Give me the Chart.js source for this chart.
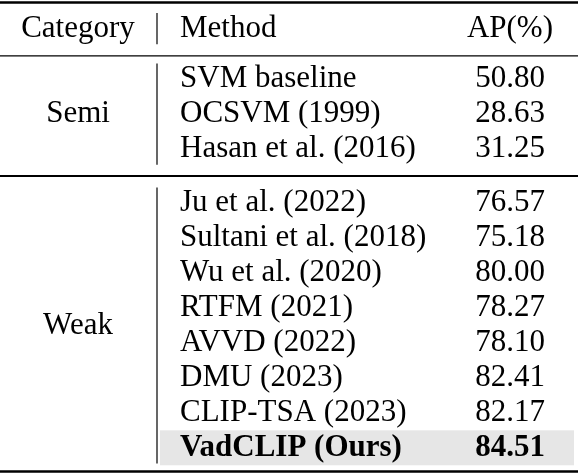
<!DOCTYPE html>
<html>
<head>
<meta charset="utf-8">
<script src="https://cdn.jsdelivr.net/npm/chart.js@4"></script>
<style>
html, body { margin: 0; padding: 0; background: #fff; }
#wrap { width: 578px; height: 474px; }
</style>
</head>
<body>
<div id="wrap"><canvas id="tableChart"></canvas></div>
<script>
// table data
const headers = ['Category', 'Method', 'AP(%)'];
const categories = ['Semi', 'Weak'];
const semiMethods = ['SVM baseline', 'OCSVM (1999)', 'Hasan et al. (2016)'];
const semiAP = ['50.80', '28.63', '31.25'];
const weakMethods = ['Ju et al. (2022)', 'Sultani et al. (2018)', 'Wu et al. (2020)', 'RTFM (2021)',
    'AVVD (2022)', 'DMU (2023)', 'CLIP-TSA (2023)', 'VadCLIP (Ours)'];
const weakAP = ['76.57', '75.18', '80.00', '78.27', '78.10', '82.41', '82.17', '84.51'];

// row positions on the y scale (row units)
const semiRows = [1.45, 2.45, 3.45];
const weakRows = [5, 6, 7, 8, 9, 10, 11, 12];

const tablePlugin = {
    id: 'table',
    afterDraw(chart) {
        const ctx = chart.ctx;
        const x = chart.scales.x, y = chart.scales.y;
        const font = 'px "Liberation Serif", "Times New Roman", serif';
        ctx.save();
        ctx.fillStyle = '#000';
        ctx.strokeStyle = '#000';
        ctx.textBaseline = 'middle';

        // highlight last row
        ctx.fillStyle = '#e6e6e6';
        const hy0 = y.getPixelForValue(11.5), hy1 = y.getPixelForValue(12.5);
        ctx.fillRect(x.getPixelForValue(160), hy0, x.getPixelForValue(574) - x.getPixelForValue(160), hy1 - hy0);
        ctx.fillStyle = '#000';

        const hline = (v, w) => {
            ctx.lineWidth = w;
            ctx.beginPath();
            ctx.moveTo(x.getPixelForValue(0), y.getPixelForValue(v));
            ctx.lineTo(x.getPixelForValue(578), y.getPixelForValue(v));
            ctx.stroke();
        };
        const vline = (a, b) => {
            ctx.lineWidth = 1.2;
            ctx.beginPath();
            ctx.moveTo(x.getPixelForValue(157), y.getPixelForValue(a));
            ctx.lineTo(x.getPixelForValue(157), y.getPixelForValue(b));
            ctx.stroke();
        };
        hline(-0.75, 2.5);
        hline(0.78, 1.2);
        hline(4.22, 2);
        hline(12.68, 2.5);
        vline(-0.45, 0.45);
        vline(1.0, 3.9);
        vline(4.55, 12.45);

        const text = (s, px, row, align, bold) => {
            ctx.font = (bold ? 'bold ' : '') + '31' + font;
            ctx.textAlign = align;
            ctx.fillText(s, x.getPixelForValue(px), y.getPixelForValue(row));
        };
        text(headers[0], 78, 0, 'center');
        text(headers[1], 180, 0, 'left');
        text(headers[2], 553, 0, 'right');
        text(categories[0], 78, semiRows[1], 'center');
        text(categories[1], 78, 8.5, 'center');
        semiMethods.forEach((m, i) => {
            text(m, 180, semiRows[i], 'left');
            text(semiAP[i], 545, semiRows[i], 'right');
        });
        weakMethods.forEach((m, i) => {
            const last = i === weakMethods.length - 1;
            text(m, 180, weakRows[i], 'left', last);
            text(weakAP[i], 545, weakRows[i], 'right', last);
        });
        ctx.restore();
    }
};

new Chart(document.getElementById('tableChart'), {
    type: 'scatter',
    data: { datasets: [{ data: [], pointRadius: 0 }] },
    options: {
        responsive: true,
        maintainAspectRatio: false,
        animation: false,
        layout: { padding: 0 },
        plugins: { legend: { display: false }, tooltip: { enabled: false } },
        scales: {
            x: { type: 'linear', min: 0, max: 578, display: false },
            y: { type: 'linear', min: -0.82, max: 12.75, reverse: true, display: false }
        }
    },
    plugins: [tablePlugin]
});
</script>
</body>
</html>
